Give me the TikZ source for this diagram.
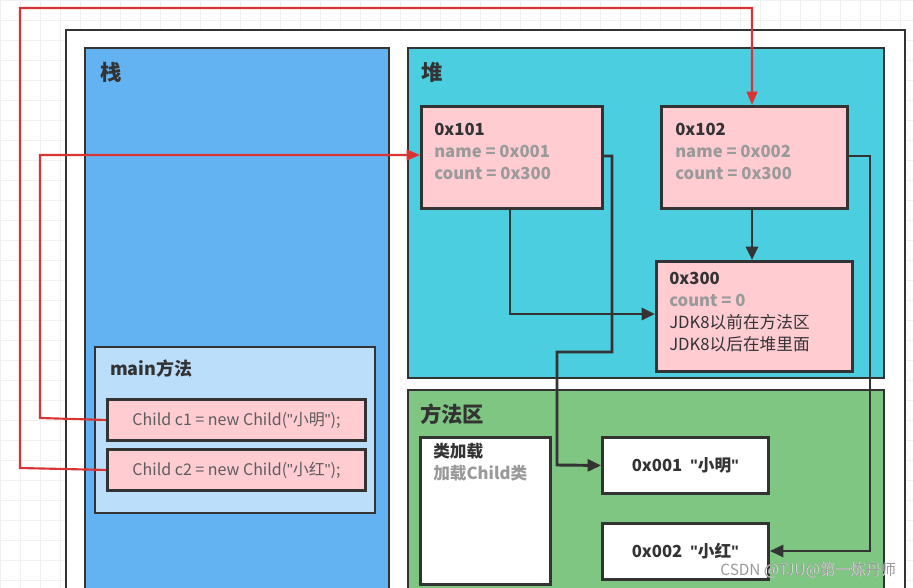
\documentclass[tikz,border=0pt]{standalone}
\usepackage{fontspec}
\setmainfont{Noto Sans CJK SC}
\newfontfamily\qf{Liberation Sans}
\usetikzlibrary{arrows.meta}
\definecolor{stk}{HTML}{63B3F3}
\definecolor{hp}{HTML}{4BCEE0}
\definecolor{ma}{HTML}{80C683}
\definecolor{mn}{HTML}{BBDEFA}
\definecolor{pk}{HTML}{FFCCD2}
\definecolor{bd}{HTML}{333333}
\definecolor{rd}{HTML}{D93434}
\definecolor{gy}{HTML}{9A9A9A}
\newcommand{\dq}{{\qf"}}
\begin{document}
\begin{tikzpicture}[x=0.75pt,y=-0.75pt,
  box/.style={draw=bd,line width=2.2pt,rectangle},
  ttl/.style={anchor=north west,font=\bfseries\fontsize{16}{18}\selectfont,text=bd,inner sep=0},
  txt/.style={anchor=north west,align=left,inner sep=0,font=\fontsize{12.5}{16.5}\selectfont,text=bd},
  dk/.style={draw=bd,line width=2.2pt,-{Triangle[length=10pt,width=9pt]}},
  rl/.style={draw=rd,line width=1.6pt,-{Triangle[length=10pt,width=8pt]}}]
\useasboundingbox (0,0) rectangle (913,588);
\begin{scope}
\clip (0,0) rectangle (913,588);
\fill[white] (0,0) rectangle (913,588);
\foreach \i in {0,20,...,913} \draw[black!6,line width=0.4pt] (\i,0) -- (\i,588);
\foreach \j in {0,20,...,588} \draw[black!6,line width=0.4pt] (0,\j) -- (913,\j);
\draw[box,fill=white] (66,30) rectangle (905,620);
\draw[box,fill=stk] (85,48) rectangle (389,620);
\draw[box,fill=hp] (408,48) rectangle (884,378);
\draw[box,fill=ma] (408,390) rectangle (884,620);
\draw[box,fill=mn] (95,347) rectangle (375,513);
\node[box,fill=pk,minimum width=258pt*0.75,minimum height=41pt*0.75,anchor=north west,font=\fontsize{12}{13}\selectfont,text=bd!80] (c1) at (106,398) {Child c1 = new Child(\dq 小明\dq);};
\node[box,fill=pk,minimum width=258pt*0.75,minimum height=41pt*0.75,anchor=north west,font=\fontsize{12}{13}\selectfont,text=bd!80] (c2) at (106,448) {Child c2 = new Child(\dq 小红\dq);};
\node[box,fill=pk,minimum width=181pt*0.75,minimum height=102pt*0.75,anchor=north west] (a) at (420,105) {};
\node[box,fill=pk,minimum width=186pt*0.75,minimum height=102pt*0.75,anchor=north west] (b) at (660,105) {};
\node[box,fill=pk,minimum width=196pt*0.75,minimum height=110pt*0.75,anchor=north west] (c) at (655,260) {};
\node[box,fill=white,minimum width=130pt*0.75,minimum height=147pt*0.75,anchor=north west] (cl) at (419,436) {};
\node[box,fill=white,minimum width=166pt*0.75,minimum height=56pt*0.75,anchor=north west,font=\bfseries\fontsize{12.5}{14}\selectfont,text=bd] (s1) at (601,436) {0x001\ \ \dq 小明\dq};
\node[box,fill=white,minimum width=166pt*0.75,minimum height=56pt*0.75,anchor=north west,font=\bfseries\fontsize{12.5}{14}\selectfont,text=bd] (s2) at (601,522) {0x002\ \ \dq 小红\dq};
\node[ttl] (t1) at (100,62) {栈};
\node[ttl] (t2) at (421,62) {堆};
\node[ttl] (t3) at (420,404) {方法区};
\node[ttl,font=\bfseries\fontsize{13.5}{16}\selectfont] (t4) at (110,360) {main方法};
\node[txt] (ta) at (434,123) {\textbf{0x101}\\\textcolor{gy}{\textbf{name = 0x001}}\\\textcolor{gy}{\textbf{count = 0x300}}};
\node[txt] (tb) at (675,123) {\textbf{0x102}\\\textcolor{gy}{\textbf{name = 0x002}}\\\textcolor{gy}{\textbf{count = 0x300}}};
\node[txt] (tc) at (669,272) {\textbf{0x300}\\\textcolor{gy}{\textbf{count = 0}}\\JDK8以前在方法区\\JDK8以后在堆里面};
\node[txt] (td) at (433,443) {\textbf{类加载}\\\textcolor{gy}{\textbf{加载Child类}}};
\coordinate (p1) at (601,156);
\draw[dk] (p1) -| (612,352) -| (557,465) -- (s1.west);
\draw[dk] (a.south -| 510,0) -- (510,314) -- (c.west |- 0,314);
\draw[dk] (b.south -| 752,0) -- (c.north -| 752,0);
\coordinate (p2) at (846,156);
\draw[dk] (p2) -| (870,551) -- (s2.east |- 0,551);
\draw[rl] (c1.west) -- (40,418) -- (40,155) -- (a.west |- 0,155);
\draw[rl] (c2.west) -- (20,468) -- (20,8) -- (752,8) -- (b.north -| 752,0);
\node[anchor=south east,text=white,font=\fontsize{11.5}{13}\selectfont,inner sep=1pt] (wm) at (898,580) {CSDN @TJU@第一炼丹师};
\node[anchor=south east,text=gy,font=\fontsize{11.5}{13}\selectfont,inner sep=1pt] (wm2) at (897.5,579.5) {CSDN @TJU@第一炼丹师};
\end{scope}
\end{tikzpicture}
\end{document}
